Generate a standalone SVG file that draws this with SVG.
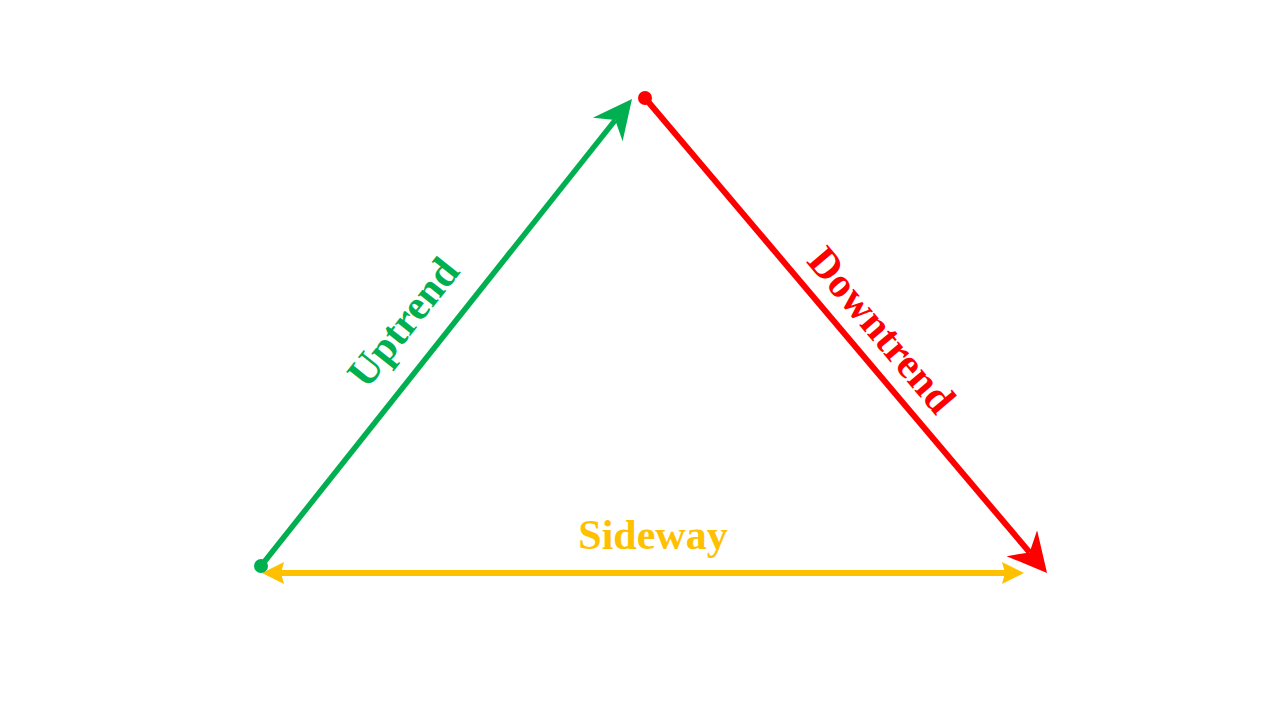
<svg xmlns="http://www.w3.org/2000/svg" width="1280" height="720" viewBox="0 0 1280 720">
<style>
.lbl{font-family:"Liberation Serif","Times New Roman",serif;font-weight:bold;font-size:42px;text-anchor:middle}
</style>
<defs>
<marker id="hg" viewBox="-40 -20 42 40" refX="-27" refY="0" markerWidth="42" markerHeight="40" markerUnits="userSpaceOnUse" orient="auto">
<path d="M0,0 L-39,-19 L-27,0 L-39,19 Z" fill="#00B050"/>
</marker>
<marker id="hr" viewBox="-40 -20 42 40" refX="-27" refY="0" markerWidth="42" markerHeight="40" markerUnits="userSpaceOnUse" orient="auto">
<path d="M0,0 L-39,-20 L-27,0 L-39,20 Z" fill="#FF0000"/>
</marker>
<marker id="hy" viewBox="-24 -12 26 24" refX="-18" refY="0" markerWidth="26" markerHeight="24" markerUnits="userSpaceOnUse" orient="auto-start-reverse">
<path d="M0,0 L-22,-11 L-19,0 L-22,11 Z" fill="#FFC000"/>
</marker>
</defs>
<rect width="1280" height="720" fill="#FFFFFF"/>
<g id="connectors">
<line x1="261" y1="566" x2="615.2" y2="120.1" stroke="#00B050" stroke-width="5.5" marker-end="url(#hg)"/>
<line x1="645" y1="98" x2="1029.6" y2="552.4" stroke="#FF0000" stroke-width="6" marker-end="url(#hr)"/>
<line x1="280" y1="573" x2="1006" y2="573" stroke="#FFC000" stroke-width="6" marker-start="url(#hy)" marker-end="url(#hy)"/>
</g>
<g id="uptrend">
<circle cx="261" cy="566" r="7" fill="#00B050"/>
<text class="lbl" fill="#00B050" transform="translate(414,331) rotate(-51.5)">Uptrend</text>
</g>
<g id="downtrend">
<circle cx="645" cy="98" r="7" fill="#FF0000"/>
<text class="lbl" fill="#FF0000" transform="translate(871,339) rotate(49.8)">Downtrend</text>
</g>
<g id="sideway">
<text class="lbl" fill="#FFC000" x="653" y="549">Sideway</text>
</g>
</svg>
